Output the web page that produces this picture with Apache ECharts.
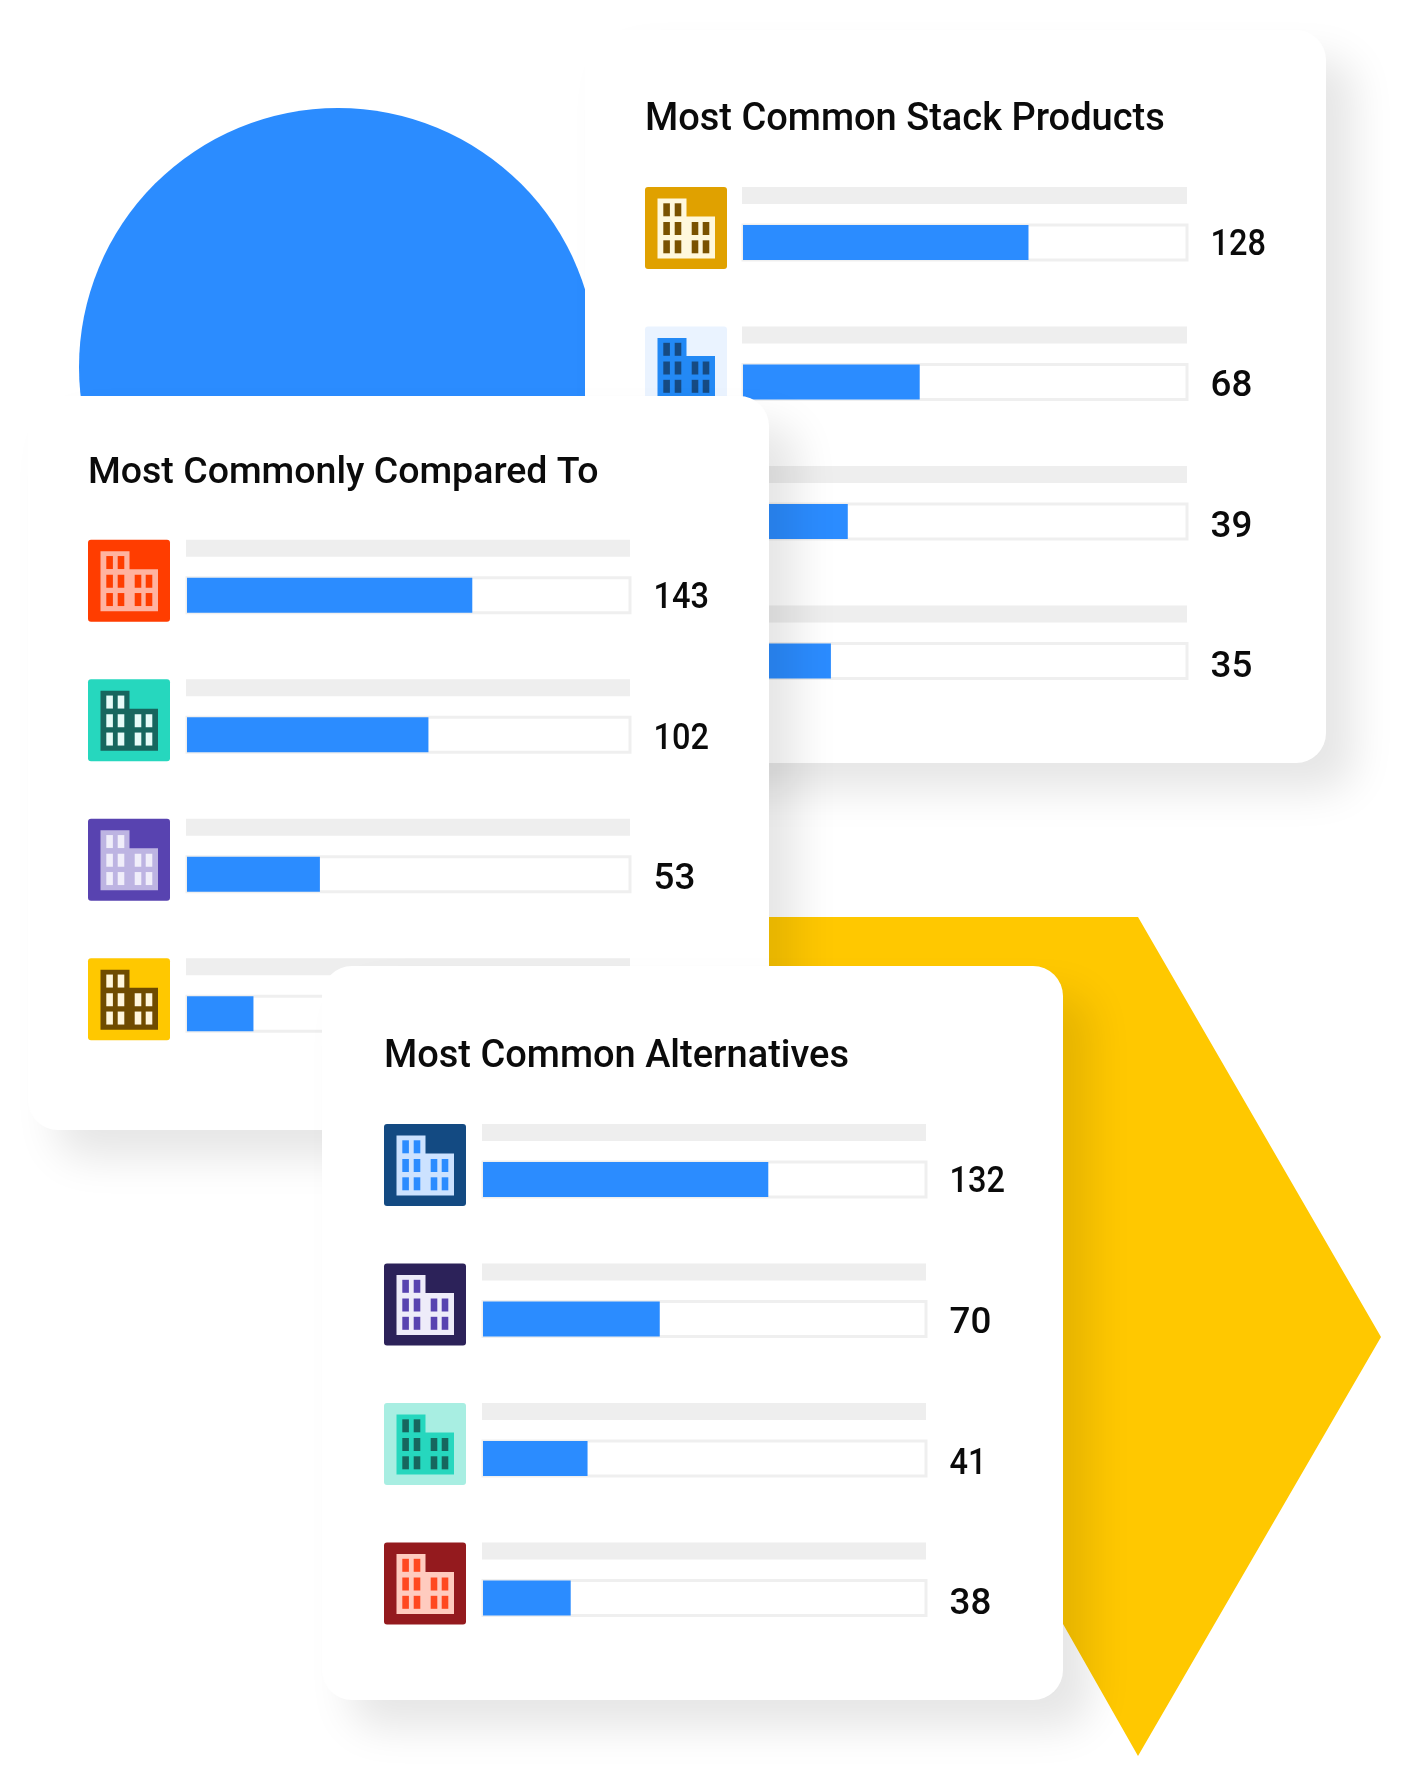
<!DOCTYPE html>
<html>
<head>
<meta charset="utf-8">
<style>html,body{margin:0;padding:0;background:#fff}#c{width:1410px;height:1785px}</style>
<script src="https://cdn.jsdelivr.net/npm/echarts@6/dist/echarts.min.js"></script>
</head>
<body>
<div id="c"></div>
<script>
// Data
const rowNames = ['Rank 1', 'Rank 2', 'Rank 3', 'Rank 4'];
const stackTitle = 'Most Common Stack Products';
const stackCounts = [128, 68, 39, 35];
const stackFill = [64.3, 39.8, 23.6, 19.8];
const comparedTitle = 'Most Commonly Compared To';
const comparedCounts = [143, 102, 53, 40];
const comparedFill = [64.4, 54.5, 30, 15];
const altTitle = 'Most Common Alternatives';
const altCounts = [132, 70, 41, 38];
const altFill = [64.4, 39.9, 23.6, 19.8];
const fillAxisMax = 100;

// Icon palettes: background, building, windows
const stackIcons = [['#E0A100','#FFF8DC','#7A5200'],['#EAF3FF','#2389F5','#164A82'],['#EAF3FF','#2389F5','#164A82'],['#EAF3FF','#2389F5','#164A82']];
const comparedIcons = [['#FF3D00','#FFB3A0','#FF3D00'],['#26D7BE','#17665E','#E6FBF8'],['#5843B0','#BDB4E2','#F0EEFA'],['#FFC800','#6F4B00','#FFF6DC']];
const altIcons = [['#134A82','#CCE2FF','#2B8CFF'],['#2C2259','#EEECF9','#5843B0'],['#A8EEE2','#26D7BE','#17665E'],['#941A1E','#FFCBBF','#FF4820']];

const BLUE = '#2B8CFF', YELLOW = '#FFC800';
const FONT = 'Roboto';

// Layout of each panel
const panels = [
  {title: stackTitle, counts: stackCounts, fill: stackFill, icons: stackIcons, card: [585, 30, 741, 733], left: 743, width: 444, iconX: 645, top: 172.75, z: 10, titleSize: 38},
  {title: comparedTitle, counts: comparedCounts, fill: comparedFill, icons: comparedIcons, card: [28, 396, 741, 734], left: 187, width: 443, iconX: 88, top: 525.5, z: 20, titleSize: 37.5},
  {title: altTitle, counts: altCounts, fill: altFill, icons: altIcons, card: [322, 966, 741, 734], left: 483, width: 443, iconX: 384, top: 1109.75, z: 30, titleSize: 38}
];
const GRID_H = 558;

const windowRects = [[18.3,16.3],[29.7,16.3],[18.3,35],[29.7,35],[46.7,35],[57.7,35],[18.3,53.3],[29.7,53.3],[46.7,53.3],[57.7,53.3]];

function makeRender(panel) {
  return function (params, api) {
    const i = api.value(1);
    const l = api.coord([0, i]);
    const r = api.coord([fillAxisMax, i]);
    const pal = panel.icons[params.dataIndex];
    const ix = panel.iconX, iy = l[1] - 55.5;
    const label = String(api.value(2));
    const children = [
      {type: 'rect', shape: {x: ix, y: iy, width: 82, height: 82, r: 3}, style: {fill: pal[0]}},
      {type: 'polygon', shape: {points: [[ix+12.5,iy+11.5],[ix+41.5,iy+11.5],[ix+41.5,iy+29.5],[ix+70,iy+29.5],[ix+70,iy+71.5],[ix+12.5,iy+71.5]]}, style: {fill: pal[1]}},
      {type: 'rect', shape: {x: l[0] - 1, y: iy, width: r[0] - l[0] + 1, height: 17}, style: {fill: '#EEEEEE'}},
      {type: 'text', x: r[0] + 23.5, y: l[1] + 3.4 + 1.2 * i, scaleX: label.includes('1') ? 0.93 : 1.05, scaleY: 1.06,
        style: {x: 0, y: 0, text: label, fill: '#0B0B0B', font: '500 35px ' + FONT, textAlign: 'left', textVerticalAlign: 'middle'}}
    ];
    windowRects.forEach(w => children.push({type: 'rect', shape: {x: ix + w[0], y: iy + w[1], width: 6.6, height: 13}, style: {fill: pal[2]}}));
    return {type: 'group', children};
  };
}

const grid = [], xAxis = [], yAxis = [], series = [], title = [];
const graphic = [
  {type: 'circle', z: 1, shape: {cx: 338, cy: 367, r: 259}, style: {fill: BLUE}},
  {type: 'polygon', z: 1, shape: {points: [[660,917],[1138,917],[1381,1337],[1138,1756],[900,1337]]}, style: {fill: YELLOW}}
];
panels.forEach((p, k) => {
  graphic.push({type: 'rect', z: p.z, shape: {x: p.card[0], y: p.card[1], width: p.card[2], height: p.card[3], r: 30},
    style: {fill: '#fff', shadowBlur: 42, shadowOffsetX: 28, shadowOffsetY: 28, shadowColor: 'rgba(0,0,0,0.1)'}});
  grid.push({left: p.left, top: p.top, width: p.width, height: GRID_H});
  xAxis.push({type: 'value', gridIndex: k, min: 0, max: fillAxisMax, show: false});
  yAxis.push({type: 'category', gridIndex: k, data: rowNames, inverse: true, show: false});
  series.push({type: 'bar', xAxisIndex: k, yAxisIndex: k, z: p.z + 1, barWidth: 35, data: p.fill, silent: true,
    itemStyle: {color: BLUE}, showBackground: true,
    backgroundStyle: {color: '#fff', borderColor: '#EFEFEF', borderWidth: 3}});
  series.push({type: 'custom', xAxisIndex: k, yAxisIndex: k, z: p.z + 2, silent: true,
    data: p.counts.map((c, i) => [0, i, c]), renderItem: makeRender(p), encode: {x: 0, y: 1}});
  title.push({text: p.title, left: p.iconX - 5, top: p.top - 76, z: p.z + 2,
    textStyle: {fontFamily: FONT, fontWeight: 500, fontSize: p.titleSize, color: '#0B0B0B'}});
});

const chart = echarts.init(document.getElementById('c'), null, {renderer: 'canvas'});
chart.setOption({animation: false, backgroundColor: '#fff', title, grid, xAxis, yAxis, series, graphic, tooltip: {show: false}});
</script>
</body>
</html>
